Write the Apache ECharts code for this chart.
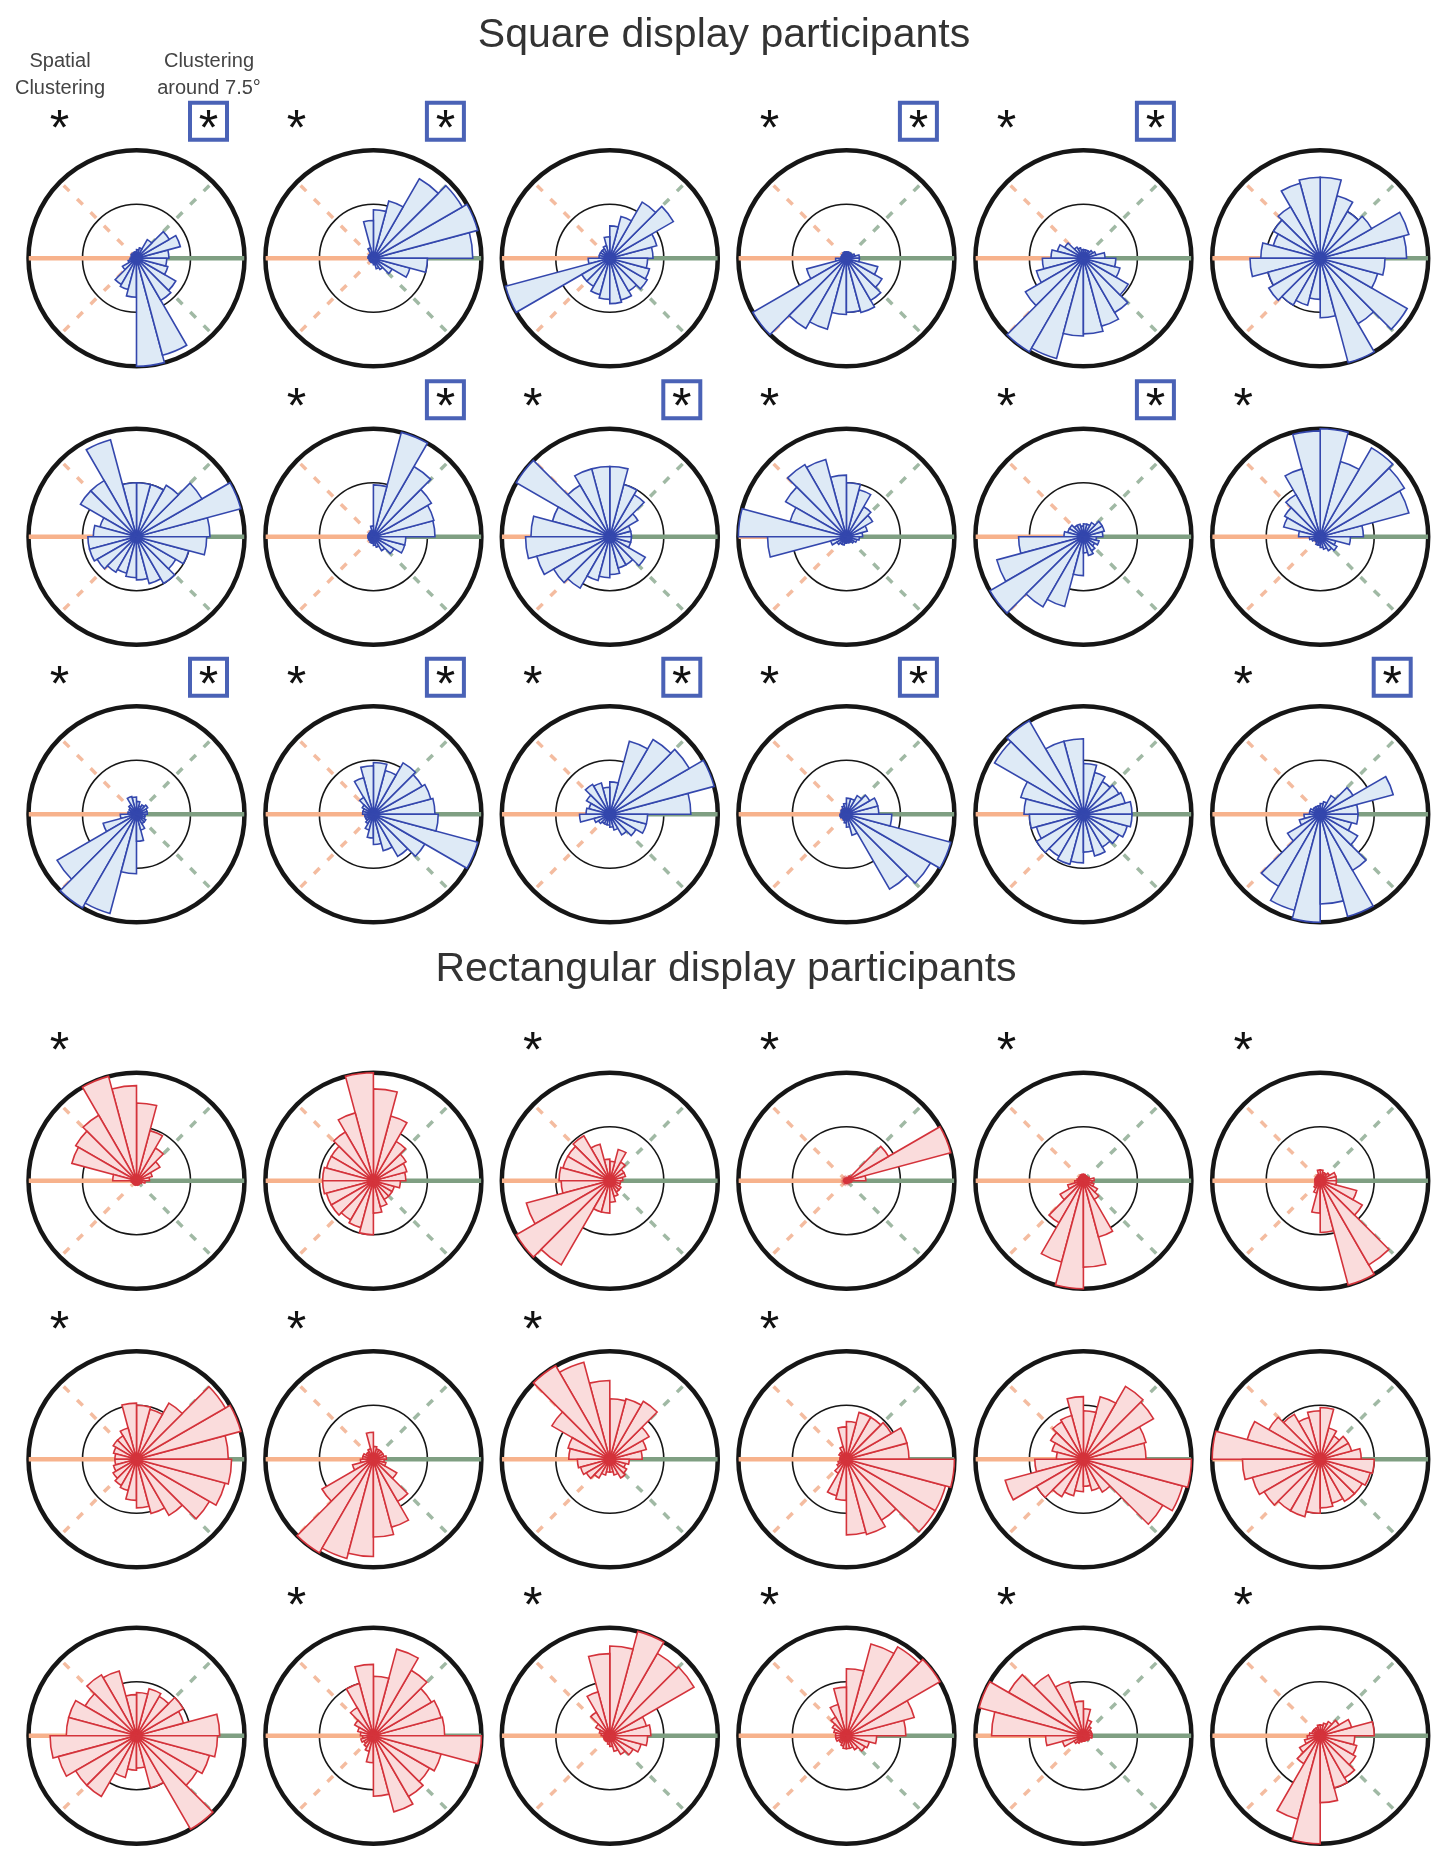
<!DOCTYPE html>
<html><head><meta charset="utf-8">
<script src="https://cdn.jsdelivr.net/npm/echarts@6/dist/echarts.min.js"></script>
<style>html,body{margin:0;padding:0;background:#fff}#c{width:1445px;height:1856px}</style>
</head><body><div id="c"></div>
<script>
// ---- categories: 24 direction bins of 15 degrees (counter-clockwise from east)
const binLabels = ['0-15','15-30','30-45','45-60','60-75','75-90','90-105','105-120','120-135','135-150','150-165','165-180',
  '180-195','195-210','210-225','225-240','240-255','255-270','270-285','285-300','300-315','315-330','330-345','345-360'];

// ---- Square display participants (normalised bin lengths, max = outer circle)
const sq01 = [0.3,0.42,0.35,0.2,0.1,0.08,0.06,0.06,0.05,0.06,0.05,0.05,0.06,0.08,0.15,0.28,0.3,0.36,1.0,0.93,0.45,0.42,0.3,0.28];
const sq02 = [0.92,1.0,0.95,0.85,0.55,0.45,0.35,0.1,0.05,0.05,0.05,0.05,0.04,0.04,0.04,0.04,0.04,0.04,0.06,0.1,0.12,0.2,0.35,0.5];
const sq03 = [0.4,0.45,0.68,0.6,0.4,0.3,0.2,0.12,0.1,0.1,0.1,0.1,0.2,1.0,0.3,0.3,0.35,0.38,0.42,0.4,0.35,0.4,0.38,0.35];
const sq04 = [0.12,0.08,0.06,0.06,0.06,0.06,0.06,0.06,0.05,0.05,0.05,0.05,0.1,0.38,1.0,0.75,0.68,0.52,0.5,0.52,0.45,0.38,0.3,0.12];
const sq05 = [0.2,0.12,0.1,0.08,0.08,0.08,0.08,0.1,0.12,0.2,0.25,0.3,0.38,0.45,0.62,1.0,0.96,0.72,0.7,0.65,0.58,0.48,0.35,0.3];
const sq06 = [0.8,0.85,0.55,0.5,0.6,0.75,0.75,0.72,0.55,0.5,0.45,0.55,0.65,0.5,0.55,0.5,0.45,0.38,0.55,1.0,0.7,0.93,0.55,0.6];
const sq07 = [0.68,1.0,0.7,0.55,0.5,0.5,0.5,0.93,0.6,0.6,0.35,0.4,0.45,0.45,0.42,0.38,0.35,0.38,0.4,0.45,0.5,0.42,0.5,0.65];
const sq08 = [0.57,0.58,0.62,0.75,1.0,0.48,0.1,0.06,0.05,0.05,0.05,0.05,0.05,0.05,0.05,0.05,0.06,0.06,0.08,0.1,0.15,0.22,0.3,0.3];
const sq09 = [0.2,0.2,0.3,0.45,0.5,0.65,0.65,0.65,0.55,1.0,0.55,0.73,0.78,0.7,0.6,0.55,0.42,0.38,0.35,0.3,0.3,0.38,0.2,0.2];
const sq10 = [0.15,0.2,0.28,0.32,0.45,0.5,0.57,0.74,0.77,0.65,0.54,1.0,0.73,0.15,0.1,0.08,0.08,0.06,0.05,0.06,0.06,0.08,0.1,0.12];
const sq11 = [0.18,0.2,0.2,0.15,0.12,0.12,0.1,0.12,0.12,0.15,0.15,0.18,0.6,0.83,1.0,0.75,0.67,0.36,0.15,0.18,0.15,0.12,0.15,0.12];
const sq12 = [0.4,0.85,0.9,0.95,0.72,1.0,0.98,0.65,0.45,0.38,0.35,0.2,0.1,0.08,0.06,0.06,0.08,0.08,0.1,0.12,0.15,0.18,0.15,0.28];
const sq13 = [0.1,0.1,0.12,0.1,0.08,0.12,0.16,0.17,0.1,0.08,0.06,0.08,0.15,0.32,0.85,1.0,0.95,0.55,0.25,0.15,0.1,0.1,0.08,0.08];
const sq14 = [0.57,0.55,0.52,0.55,0.42,0.48,0.45,0.35,0.18,0.12,0.1,0.1,0.08,0.08,0.08,0.1,0.15,0.22,0.28,0.35,0.45,0.55,1.0,0.6];
const sq15 = [0.75,1.0,0.85,0.8,0.7,0.3,0.25,0.3,0.32,0.25,0.2,0.22,0.28,0.15,0.12,0.1,0.1,0.1,0.12,0.15,0.22,0.28,0.35,0.35];
const sq16 = [0.3,0.3,0.25,0.2,0.15,0.15,0.1,0.08,0.06,0.06,0.05,0.05,0.06,0.06,0.05,0.05,0.06,0.08,0.12,0.2,0.8,0.9,1.0,0.42];
const sq17 = [0.45,0.4,0.38,0.35,0.4,0.47,0.7,0.7,1.0,0.95,0.6,0.55,0.5,0.45,0.5,0.45,0.48,0.45,0.35,0.4,0.35,0.38,0.42,0.45];
const sq18 = [0.35,0.7,0.35,0.2,0.12,0.1,0.08,0.08,0.08,0.08,0.1,0.1,0.15,0.2,0.35,0.77,0.92,1.0,0.83,0.98,0.6,0.4,0.3,0.35];

// ---- Rectangular display participants
const re01 = [0.12,0.15,0.25,0.35,0.48,0.72,0.88,1.0,0.7,0.65,0.62,0.22,0.05,0.04,0.04,0.04,0.04,0.04,0.04,0.04,0.04,0.04,0.05,0.08];
const re02 = [0.3,0.32,0.35,0.42,0.62,0.85,1.0,0.65,0.52,0.45,0.45,0.47,0.47,0.45,0.45,0.42,0.45,0.5,0.3,0.25,0.2,0.2,0.2,0.25];
const re03 = [0.12,0.15,0.15,0.2,0.3,0.18,0.2,0.35,0.48,0.45,0.45,0.47,0.45,0.8,1.0,0.9,0.3,0.3,0.2,0.15,0.12,0.12,0.1,0.1];
const re04 = [0.18,1.0,0.45,0.05,0.03,0.02,0.02,0.02,0.02,0.02,0.02,0.02,0.02,0.02,0.02,0.02,0.02,0.02,0.02,0.02,0.02,0.02,0.03,0.05];
const re05 = [0.1,0.06,0.05,0.05,0.05,0.06,0.06,0.06,0.05,0.05,0.05,0.06,0.08,0.15,0.25,0.45,0.78,1.0,0.8,0.54,0.2,0.15,0.1,0.08];
const re06 = [0.15,0.15,0.1,0.08,0.08,0.1,0.1,0.06,0.05,0.05,0.05,0.05,0.05,0.05,0.06,0.08,0.12,0.3,0.48,1.0,0.9,0.45,0.35,0.15];
const re07 = [0.85,1.0,0.95,0.6,0.48,0.5,0.52,0.3,0.25,0.25,0.22,0.2,0.2,0.22,0.25,0.28,0.3,0.38,0.45,0.52,0.6,0.78,0.85,0.88];
const re08 = [0.12,0.1,0.1,0.1,0.1,0.12,0.25,0.1,0.08,0.08,0.1,0.1,0.12,0.2,0.55,1.0,0.95,0.9,0.72,0.65,0.45,0.25,0.12,0.1];
const re09 = [0.3,0.35,0.42,0.62,0.58,0.56,0.73,0.93,1.0,0.62,0.4,0.38,0.3,0.28,0.25,0.2,0.15,0.12,0.12,0.15,0.2,0.18,0.15,0.18];
const re10 = [0.58,0.58,0.48,0.45,0.45,0.35,0.3,0.12,0.08,0.08,0.06,0.06,0.06,0.08,0.1,0.15,0.35,0.38,0.7,0.72,0.65,0.95,0.95,1.0];
const re11 = [0.58,0.6,0.75,0.78,0.6,0.45,0.58,0.42,0.4,0.35,0.3,0.25,0.45,0.75,0.5,0.4,0.35,0.3,0.25,0.3,0.35,0.85,0.95,1.0];
const re12 = [0.38,0.3,0.3,0.25,0.3,0.48,0.45,0.4,0.48,0.55,0.7,1.0,0.72,0.65,0.6,0.55,0.55,0.5,0.45,0.42,0.45,0.45,0.48,0.5];
const re13 = [0.77,0.45,0.5,0.42,0.45,0.4,0.38,0.62,0.65,0.55,0.65,0.65,0.8,0.75,0.65,0.65,0.4,0.32,0.3,0.5,1.0,0.65,0.7,0.75];
const re14 = [0.66,0.65,0.62,0.7,0.83,0.55,0.66,0.5,0.3,0.2,0.15,0.12,0.1,0.12,0.1,0.12,0.15,0.25,0.56,0.73,0.65,0.6,0.65,1.0];
const re15 = [0.38,0.35,0.9,0.88,1.0,0.83,0.76,0.42,0.25,0.15,0.1,0.08,0.06,0.06,0.06,0.06,0.06,0.08,0.1,0.15,0.2,0.25,0.3,0.35];
const re16 = [0.55,0.65,1.0,0.95,0.88,0.62,0.45,0.3,0.2,0.15,0.12,0.1,0.1,0.1,0.08,0.08,0.1,0.12,0.12,0.12,0.15,0.2,0.22,0.28];
const re17 = [0.08,0.08,0.08,0.1,0.15,0.25,0.32,0.52,0.65,0.8,1.0,0.85,0.35,0.2,0.1,0.08,0.06,0.05,0.05,0.05,0.05,0.06,0.06,0.08];
const re18 = [0.5,0.3,0.2,0.15,0.12,0.1,0.1,0.08,0.08,0.08,0.08,0.1,0.12,0.15,0.22,0.3,0.8,1.0,0.62,0.5,0.45,0.38,0.35,0.32];

// ---- significance markers (1 = asterisk shown)
const squareSpatial   = [1,1,0,1,1,0, 0,1,1,1,1,1, 1,1,1,1,0,1];
const squareAround75  = [1,1,0,1,1,0, 0,1,1,0,1,0, 1,1,1,1,0,1];
const rectSpatial     = [1,0,1,1,1,1, 1,1,1,1,0,0, 0,1,1,1,1,1];

// ---- reference directions (degrees) of the display edges / diagonals
const refSolidOrange = [180];
const refSolidGreen  = [0];
const refDashOrange  = [135, 225];
const refDashGreen   = [45, 315];

const squarePanels = [sq01,sq02,sq03,sq04,sq05,sq06,sq07,sq08,sq09,sq10,sq11,sq12,sq13,sq14,sq15,sq16,sq17,sq18];
const rectPanels   = [re01,re02,re03,re04,re05,re06,re07,re08,re09,re10,re11,re12,re13,re14,re15,re16,re17,re18];

// ---- layout
const colX = [136.5, 373.4, 609.8, 846.4, 1083.4, 1320.2];
const rowY = [258.3, 536.7, 814.3, 1180.7, 1459.3, 1735.7];
const R = 108;
const FONT = '"Liberation Sans", Arial, Helvetica, sans-serif';

const option = {animation:false, backgroundColor:'#ffffff', polar:[], angleAxis:[], radiusAxis:[], series:[], graphic:[]};

const allPanels = squarePanels.concat(rectPanels);
allPanels.forEach(function(vals, p){
  const row = Math.floor(p/6), col = p%6;
  const cx = colX[col], cy = rowY[row];
  const isSq = p < 18;
  const pa = option.polar.length;
  option.polar.push({center:[cx, cy], radius:[0, R]});
  option.polar.push({center:[cx, cy], radius:[0, R]});
  const pb = pa + 1;
  option.angleAxis.push({polarIndex:pa, type:'category', data:binLabels, startAngle:0, clockwise:false, boundaryGap:true,
    axisLine:{show:true, lineStyle:{color:'#161616', width:4.5}}, axisTick:{show:false}, axisLabel:{show:false}, splitLine:{show:false}, z:1});
  option.radiusAxis.push({polarIndex:pa, type:'value', min:0, max:1, interval:0.5,
    axisLine:{show:false}, axisTick:{show:false}, axisLabel:{show:false}, splitLine:{show:true, lineStyle:{color:'#161616', width:1.6}}, z:1});
  option.angleAxis.push({polarIndex:pb, type:'value', min:0, max:360, startAngle:0, clockwise:false, show:false});
  option.radiusAxis.push({polarIndex:pb, type:'value', min:0, max:1, show:false});

  function addRef(angles, color, width, dashed){
    angles.forEach(function(a){
      option.series.push({type:'line', coordinateSystem:'polar', polarIndex:pb, data:[[0, a],[1, a]],
        symbol:'none', silent:true, z:2,
        lineStyle:{color:color, width:width, type: dashed ? [8, 11] : 'solid', cap:'butt'}});
    });
  }
  addRef(refDashOrange, 'rgba(240,160,120,0.7)', 3.5, true);
  addRef(refDashGreen,  'rgba(120,155,125,0.7)', 3.5, true);
  addRef(refSolidOrange, '#f7b28c', 4.5, false);
  addRef(refSolidGreen,  '#7f9f82', 4.5, false);

  option.series.push({type:'bar', coordinateSystem:'polar', polarIndex:pa, data:vals, barCategoryGap:'0%', silent:true, z:4,
    itemStyle: isSq ? {color:'#deeaf6', borderColor:'#3447ad', borderWidth:1.6}
                    : {color:'#fadcdc', borderColor:'#d4333b', borderWidth:1.6}});

  // markers
  const idx = isSq ? p : p - 18;
  const showLeft = isSq ? squareSpatial[idx] : rectSpatial[idx];
  const showBox = isSq ? squareAround75[idx] : 0;
  if (showLeft) {
    option.graphic.push({type:'text', x: cx - 77, y: cy - 137 + 10, z:10,
      style:{text:'*', font:'50px ' + FONT, fill:'#111', align:'center', verticalAlign:'middle'}});
  }
  if (showBox) {
    option.graphic.push({type:'rect', x: cx + 72, y: cy - 137, z:10,
      shape:{x:-18.5, y:-18.5, width:37, height:37},
      style:{fill:'#ffffff', stroke:'#4a62b6', lineWidth:4}});
    option.graphic.push({type:'text', x: cx + 72, y: cy - 137 + 10, z:11,
      style:{text:'*', font:'50px ' + FONT, fill:'#111', align:'center', verticalAlign:'middle'}});
  }
});

// titles and header labels
option.graphic.push({type:'text', x:724, y:36, z:10, style:{text:'Square display participants', font:'41px ' + FONT, fill:'#333', align:'center', verticalAlign:'middle'}});
option.graphic.push({type:'text', x:726, y:970, z:10, style:{text:'Rectangular display participants', font:'41px ' + FONT, fill:'#333', align:'center', verticalAlign:'middle'}});
option.graphic.push({type:'text', x:60, y:75, z:10, style:{text:'Spatial\nClustering', font:'20px ' + FONT, lineHeight:27, fill:'#444', align:'center', verticalAlign:'middle'}});
option.graphic.push({type:'text', x:209, y:75, z:10, style:{text:'Clustering\naround 7.5°', font:'20px ' + FONT, lineHeight:27, fill:'#444', align:'center', verticalAlign:'middle'}});

const chart = echarts.init(document.getElementById('c'), null, {renderer:'canvas', width:1445, height:1856});
chart.setOption(option);
</script>
</body></html>
